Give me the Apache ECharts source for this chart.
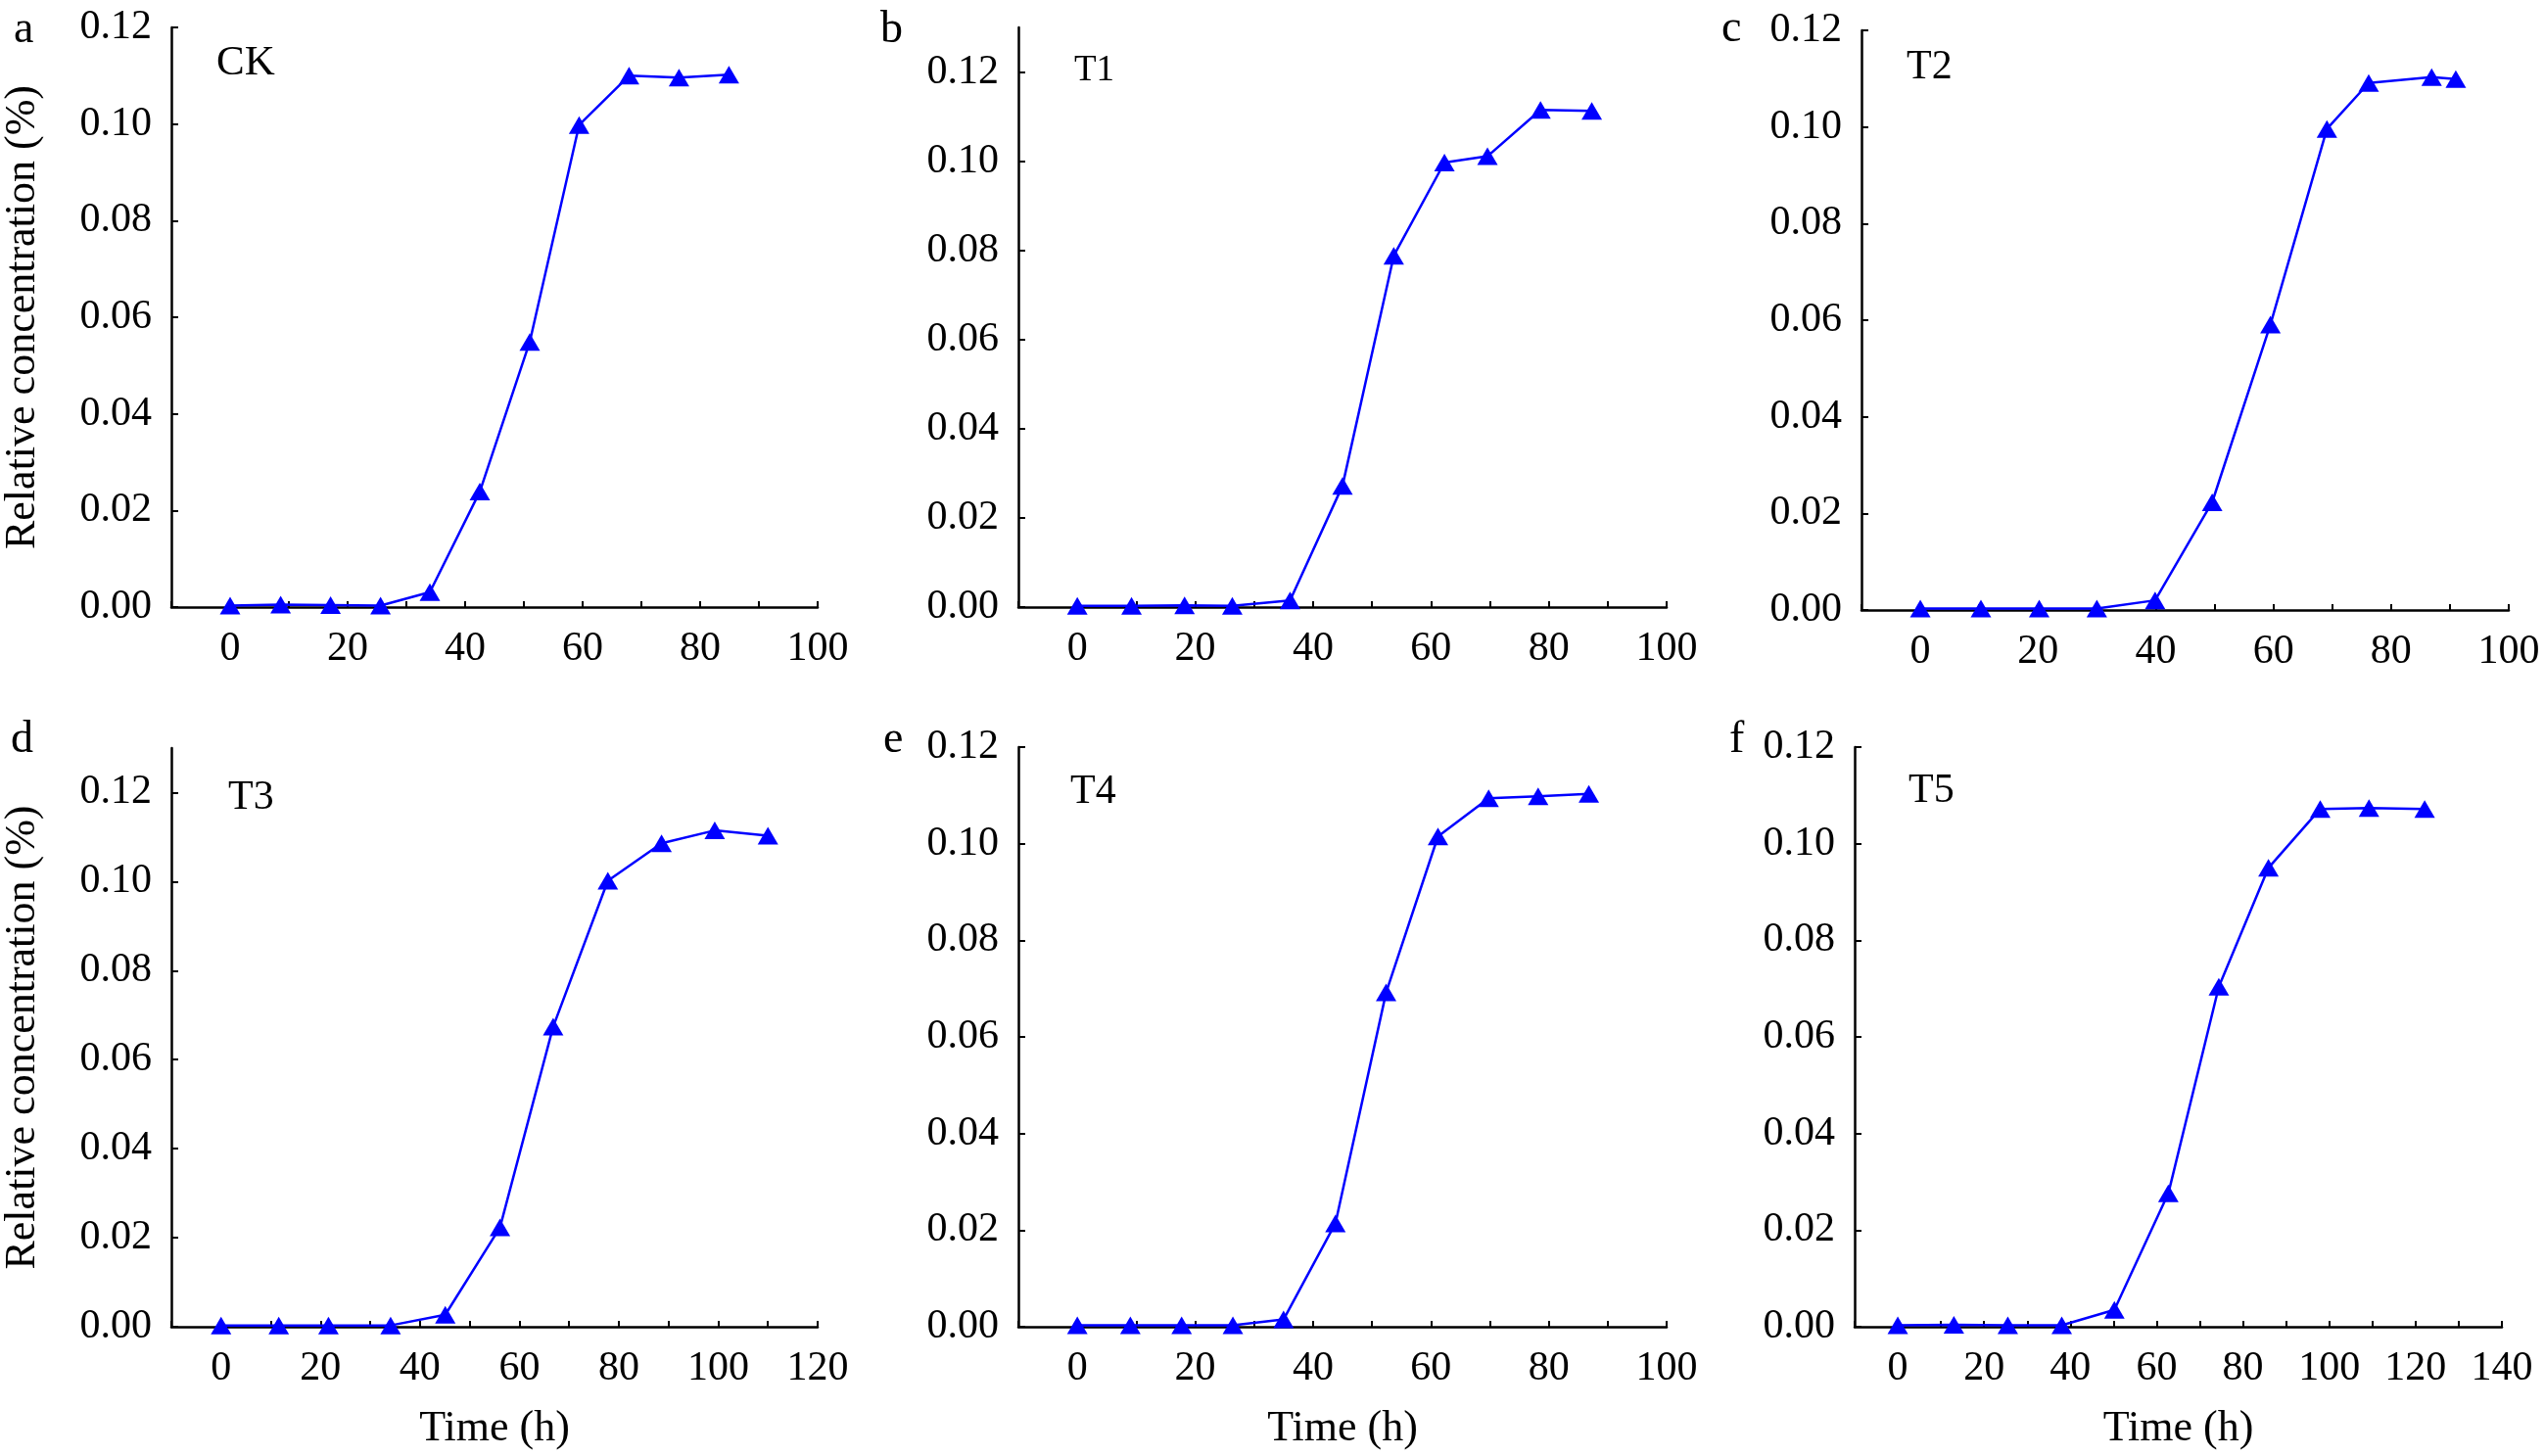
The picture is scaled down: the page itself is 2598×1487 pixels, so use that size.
<!DOCTYPE html>
<html>
<head>
<meta charset="utf-8">
<script src="https://cdn.jsdelivr.net/npm/echarts@6/dist/echarts.min.js"></script>
<style>
html,body{margin:0;padding:0;background:#fff;}
#chart{width:2598px;height:1487px;}
</style>
</head>
<body>
<div id="chart"></div>
<script>
// ---- Data ----
const panelNames = ['CK', 'T1', 'T2', 'T3', 'T4', 'T5'];
const panelLetters = ['a', 'b', 'c', 'd', 'e', 'f'];

const ckTime = [0, 8.6, 17.1, 25.6, 34.0, 42.5, 51.0, 59.4, 67.9, 76.4, 84.9];
const ckConc = [0.0003, 0.0005, 0.0004, 0.0003, 0.0031, 0.0239, 0.0549, 0.0998, 0.1100, 0.1096, 0.1102];

const t1Time = [0, 9.2, 18.2, 26.3, 36.1, 45.0, 53.7, 62.3, 69.6, 78.6, 87.3];
const t1Conc = [0.0003, 0.0003, 0.0004, 0.0003, 0.0015, 0.0272, 0.0788, 0.0997, 0.1011, 0.1115, 0.1113];

const t2Time = [0, 10.3, 20.2, 30.0, 39.9, 49.6, 59.5, 69.1, 76.2, 86.9, 91.0];
const t2Conc = [0.0003, 0.0003, 0.0003, 0.0003, 0.0020, 0.0223, 0.0591, 0.0996, 0.1091, 0.1103, 0.1099];

const t3Time = [0, 11.6, 21.6, 34.1, 45.1, 56.1, 66.8, 77.8, 88.6, 99.3, 110.0];
const t3Conc = [0.0003, 0.0003, 0.0003, 0.0003, 0.0027, 0.0223, 0.0674, 0.1002, 0.1086, 0.1115, 0.1103];

const t4Time = [0, 9.0, 17.7, 26.4, 35.0, 43.8, 52.4, 61.2, 69.8, 78.2, 86.8];
const t4Conc = [0.0003, 0.0003, 0.0003, 0.0003, 0.0015, 0.0214, 0.0692, 0.1015, 0.1094, 0.1098, 0.1103];

const t5Time = [0, 13.0, 25.5, 38.0, 50.2, 62.7, 74.4, 85.9, 97.9, 109.2, 122.1];
const t5Conc = [0.0003, 0.0004, 0.0003, 0.0003, 0.0035, 0.0276, 0.0704, 0.0950, 0.1072, 0.1074, 0.1072];

const yTickLabels = [0, 0.02, 0.04, 0.06, 0.08, 0.10, 0.12];
const xTicks100 = [0, 20, 40, 60, 80, 100];
const xTicks120 = [0, 20, 40, 60, 80, 100, 120];
const xTicks140 = [0, 20, 40, 60, 80, 100, 120, 140];
const xMinor100 = [-10, 0, 10, 20, 30, 40, 50, 60, 70, 80, 90, 100];
const xMinor120 = [-10, 0, 10, 20, 30, 40, 50, 60, 70, 80, 90, 100, 110, 120];
const xMinor140 = [-10, 0, 10, 20, 30, 40, 50, 60, 70, 80, 90, 100, 110, 120, 130, 140];

// ---- Layout ----
const FONT = '"Liberation Serif", "Times New Roman", serif';
const panels = [
  {time: ckTime, conc: ckConc, xMax: 100, yMax: 0.12, xLab: xTicks100, xTk: xMinor100, grid: {left: 173, top: 28, width: 662, height: 592}, yName: true,  xName: false},
  {time: t1Time, conc: t1Conc, xMax: 100, yMax: 0.13, xLab: xTicks100, xTk: xMinor100, grid: {left: 1040, top: 28, width: 662, height: 592}, yName: false, xName: false},
  {time: t2Time, conc: t2Conc, xMax: 100, yMax: 0.12, xLab: xTicks100, xTk: xMinor100, grid: {left: 1901, top: 31, width: 661, height: 592}, yName: false, xName: false},
  {time: t3Time, conc: t3Conc, xMax: 120, yMax: 0.13, xLab: xTicks120, xTk: xMinor120, grid: {left: 173, top: 764, width: 662, height: 591}, yName: true,  xName: true},
  {time: t4Time, conc: t4Conc, xMax: 100, yMax: 0.12, xLab: xTicks100, xTk: xMinor100, grid: {left: 1040, top: 763, width: 662, height: 592}, yName: false, xName: true},
  {time: t5Time, conc: t5Conc, xMax: 140, yMax: 0.12, xLab: xTicks140, xTk: xMinor140, grid: {left: 1894, top: 763, width: 661, height: 592}, yName: false, xName: true}
];

const nameLabelPos = [
  {x: 221, y: 65, size: 43},
  {x: 1097, y: 72, size: 37},
  {x: 1947, y: 69, size: 42},
  {x: 233, y: 815, size: 42},
  {x: 1093, y: 809, size: 42},
  {x: 1949, y: 808, size: 42}
];
const letterPos = [
  {x: 14, y: 31}, {x: 899, y: 31}, {x: 1758, y: 30},
  {x: 11, y: 756}, {x: 902, y: 756}, {x: 1766, y: 756}
];

const axisLineStyle = {color: '#000', width: 2.5};

const grids = [], xAxes = [], yAxes = [], series = [], graphics = [];
panels.forEach((p, i) => {
  grids.push(Object.assign({containLabel: false}, p.grid));
  xAxes.push({
    type: 'value', gridIndex: i, min: -10, max: p.xMax,
    axisLine: {show: true, onZero: false, lineStyle: axisLineStyle},
    axisTick: {show: true, inside: true, length: 6, lineStyle: {color: '#000', width: 2}, customValues: p.xTk},
    axisLabel: {show: true, customValues: p.xLab, margin: 22, color: '#000', fontFamily: FONT, fontSize: 42},
    splitLine: {show: false},
    name: p.xName ? 'Time (h)' : '',
    nameLocation: 'middle', nameGap: 82,
    nameTextStyle: {color: '#000', fontFamily: FONT, fontSize: 44}
  });
  yAxes.push({
    type: 'value', gridIndex: i, min: 0, max: p.yMax,
    axisLine: {show: true, onZero: false, lineStyle: axisLineStyle},
    axisTick: {show: true, inside: true, length: 7, lineStyle: {color: '#000', width: 2}, customValues: yTickLabels},
    axisLabel: {show: true, customValues: yTickLabels, margin: 20, color: '#000', fontFamily: FONT, fontSize: 42,
      formatter: v => v.toFixed(2)},
    splitLine: {show: false},
    name: p.yName ? 'Relative concentration (%)' : '',
    nameLocation: 'middle', nameGap: 130,
    nameTextStyle: {color: '#000', fontFamily: FONT, fontSize: 44}
  });
  series.push({
    type: 'line', xAxisIndex: i, yAxisIndex: i,
    data: p.time.map((t, k) => [t, p.conc[k]]),
    symbol: 'triangle', symbolSize: [21, 18],
    itemStyle: {color: '#0000FF'},
    lineStyle: {color: '#0000FF', width: 2.5},
    animation: false
  });
  graphics.push({
    type: 'text', x: nameLabelPos[i].x, y: nameLabelPos[i].y,
    style: {text: panelNames[i], font: nameLabelPos[i].size + 'px ' + FONT, fill: '#000', verticalAlign: 'middle', align: 'left'}
  });
  graphics.push({
    type: 'text', x: letterPos[i].x, y: letterPos[i].y,
    style: {text: panelLetters[i], font: '46px ' + FONT, fill: '#000', verticalAlign: 'middle', align: 'left'}
  });
});

const chart = echarts.init(document.getElementById('chart'), null, {renderer: 'canvas'});
chart.setOption({
  backgroundColor: '#fff',
  animation: false,
  grid: grids,
  xAxis: xAxes,
  yAxis: yAxes,
  series: series,
  graphic: graphics
});
</script>
</body>
</html>
